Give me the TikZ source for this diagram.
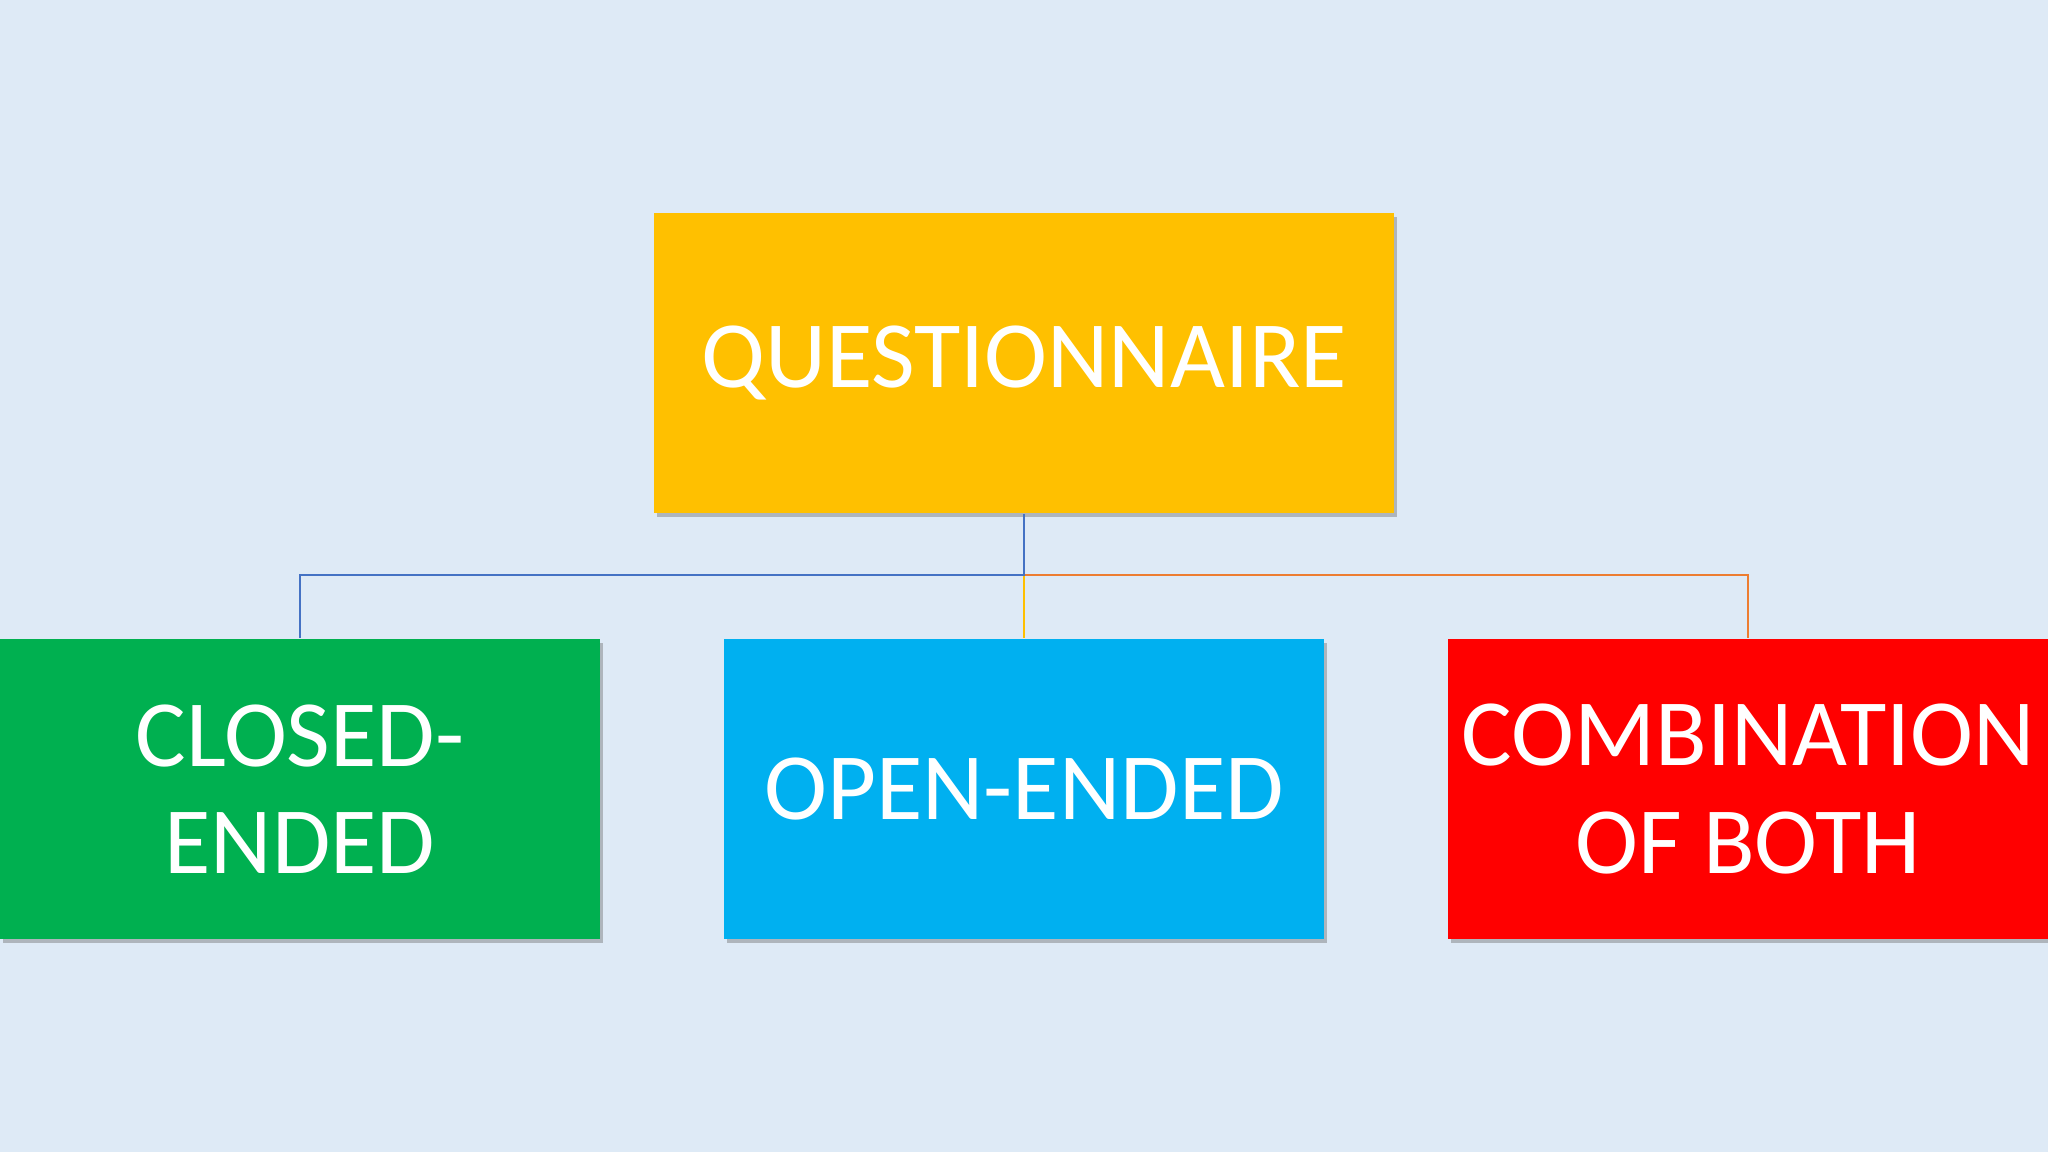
\documentclass[tikz,border=0pt]{standalone}
\usepackage{fontspec}
\setmainfont{Carlito}
\usetikzlibrary{shadows}

\definecolor{fundo}{RGB}{222,234,246}
\definecolor{amarelo}{RGB}{255,192,0}
\definecolor{verde}{RGB}{0,176,80}
\definecolor{ciano}{RGB}{0,176,240}
\definecolor{vermelho}{RGB}{255,0,0}
\definecolor{azul}{RGB}{68,114,196}
\definecolor{laranja}{RGB}{237,125,49}

\tikzset{
    caixa/.style={fill=#1, text=white, align=center, inner sep=0pt,
        minimum width=6cm, minimum height=3cm,
        font=\fontsize{27}{30.5}\selectfont,
        drop shadow={shadow xshift=0.8pt, shadow yshift=-1.2pt, opacity=0.4, fill=gray!80!black}},
    ligacao/.style={line width=0.8pt, draw=#1}
}

\begin{document}
\begin{tikzpicture}[x=0.01cm, y=-0.01cm]

    % Fundo
    \fill[fundo] (0,0) rectangle (2048,1152);
    \useasboundingbox (0,0) rectangle (2048,1152);

    % Caixas
    \node[caixa=amarelo, minimum width=7.4cm] (quest) at (1024,363) {QUESTIONNAIRE};
    \node[caixa=verde] (fechado) at (300,789) {CLOSED-\\ENDED};
    \node[caixa=ciano] (aberto) at (1024,789) {OPEN-ENDED};
    \node[caixa=vermelho] (ambos) at (1748,789) {COMBINATION\\OF BOTH};

    % Ramificação
    \coordinate (meio) at (1024,575);

    % Ligações
    \draw[ligacao=amarelo, line width=0.4pt] (meio) -- (aberto.north);
    \draw[ligacao=laranja] (meio) -| (ambos.north);
    \draw[ligacao=azul] (quest.south) -- (meio) -| (fechado.north);

\end{tikzpicture}
\end{document}
